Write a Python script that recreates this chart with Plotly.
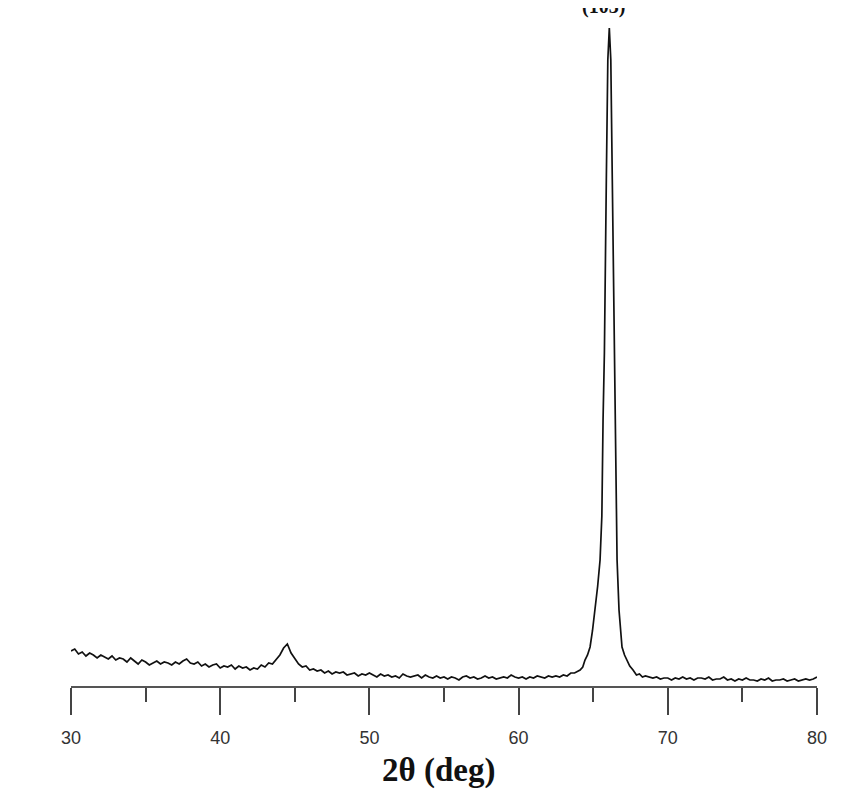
import numpy as np
import plotly.graph_objects as go

# Segment A: 2theta 30.00 .. 63.50, step 0.25
seg_a_start = 30.0
seg_a_step = 0.25
seg_a_int = [35, 37, 32, 34, 30, 33, 31, 28, 31,
             29, 27, 30, 26, 28, 27, 24, 28, 25,
             22, 26, 24, 21, 23, 25, 22, 24, 23,
             21, 24, 22, 25, 27, 23, 22, 24, 20,
             22, 19, 21, 22, 18, 20, 19, 21, 17,
             20, 18, 19, 16, 18, 17, 21, 19, 23,
             22, 27, 31, 38, 42, 33, 28, 22, 19,
             20, 16, 17, 15, 16, 13, 15, 12, 14,
             13, 14, 11, 12, 13, 10, 12, 11, 13,
             11, 9, 12, 10, 11, 9, 10, 8, 12,
             10, 9, 10, 11, 8, 11, 9, 8, 10,
             8, 9, 7, 9, 8, 6, 9, 10, 8,
             9, 7, 8, 10, 8, 9, 7, 8, 9,
             8, 11, 9, 8, 9, 7, 9, 8, 10,
             9, 8, 10, 9, 10, 9, 11, 10, 13]

# Peak (103) region, explicit 2theta positions
peak_x = [63.75, 64.00, 64.12, 64.30, 64.45, 64.62, 64.79, 64.95, 65.12, 65.30,
          65.46, 65.58, 65.66, 65.75, 65.88, 65.98, 66.08, 66.18, 66.28, 66.41,
          66.50, 66.60, 66.73, 66.93, 67.10, 67.27, 67.45, 67.67, 67.90, 68.10,
          68.30]
peak_int = [13, 15, 16, 19, 26, 31, 39, 55, 76, 100,
            126, 170, 266, 333, 506, 626, 658, 626, 506, 333,
            266, 126, 76, 39, 31, 26, 20, 16, 11, 12,
            9]

# Segment C: 2theta 68.50 .. 80.00, step 0.25
seg_c_start = 68.5
seg_c_step = 0.25
seg_c_int = [10, 9, 8, 9, 7, 8, 8, 6, 8, 7,
             9, 7, 8, 6, 8, 8, 7, 9, 6, 7,
             7, 9, 6, 7, 5, 7, 6, 8, 6, 6,
             5, 7, 6, 8, 5, 6, 6, 7, 5, 6,
             7, 5, 6, 7, 6, 7, 9]

x_ticks = [30, 40, 50, 60, 70, 80]
x_title = "2θ (deg)"
peak_label = "(103)"
peak_label_x = 66.08

xa = list(seg_a_start + seg_a_step * np.arange(len(seg_a_int)))
xc = list(seg_c_start + seg_c_step * np.arange(len(seg_c_int)))
x_all = xa + peak_x + xc
y_all = seg_a_int + peak_int + seg_c_int

plot_h = 678

fig = go.Figure()
fig.add_trace(go.Scatter(x=x_all, y=y_all, mode="lines",
                         line=dict(color="#111111", width=1.7),
                         showlegend=False, hoverinfo="skip"))

fig.update_layout(
    width=844, height=796,
    margin=dict(l=63, r=35, t=0, b=796 - plot_h),
    paper_bgcolor="white", plot_bgcolor="white",
    xaxis=dict(range=[30, 80], tickvals=x_ticks, ticktext=[str(v) for v in x_ticks],
               showline=True, linecolor="#555555", linewidth=2,
               ticks="outside", ticklen=27, tickwidth=2, tickcolor="#444444",
               minor=dict(dtick=5, tick0=30, ticks="outside", ticklen=14,
                          tickwidth=2, tickcolor="#444444", showgrid=False),
               showgrid=False, zeroline=False,
               ticklabelstandoff=7,
               tickfont=dict(family="Liberation Sans, Arial", size=18, color="#333333")),
    yaxis=dict(range=[0, plot_h], visible=False, showgrid=False, zeroline=False),
    annotations=[
        dict(text=x_title, xref="paper", yref="paper", x=(430 - 63) / 746,
             y=-(762 - plot_h) / plot_h, xanchor="center", yanchor="middle",
             showarrow=False,
             font=dict(family="Liberation Serif, Times New Roman", size=33,
                       color="#111111", weight="bold")),
        dict(text="<b>" + peak_label + "</b>", xref="x", yref="y", x=peak_label_x - 0.4,
             y=666, xanchor="center", yanchor="bottom", showarrow=False,
             font=dict(family="Liberation Serif, Times New Roman", size=20,
                       color="#111111")),
    ],
)

fig.write_html("out.html")
